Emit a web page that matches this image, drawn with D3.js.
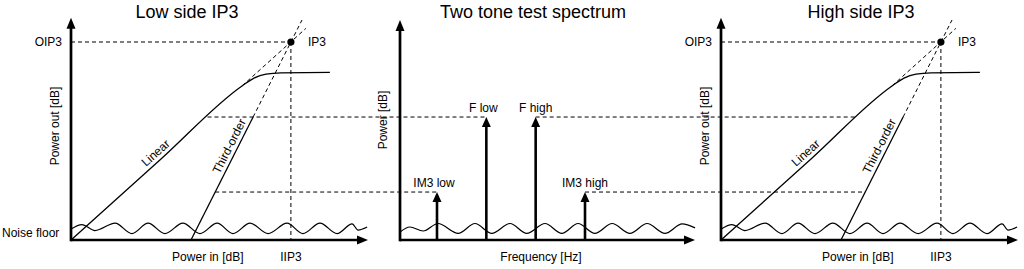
<!DOCTYPE html>
<html lang="en">
<head>
<meta charset="utf-8">
<title>IP3 two tone test</title>
<script src="https://d3js.org/d3.v7.min.js"></script>
<style>
  body { margin: 0; background: #fff; }
  svg text { font-family: "Liberation Sans", Arial, sans-serif; fill: #000; }
</style>
</head>
<body>
<svg id="chart" width="1024" height="269"></svg>
<script>
// ---- data (abstract dB units) ----
var titles = ["Low side IP3", "Two tone test spectrum", "High side IP3"];

// amplifier transfer curve (power in, power out)
var linearCurve = [[0, 0], [30, 36.8], [57, 70], [61, 73.6], [65, 75.4], [70, 76], [86.3, 76.2]];
var linearExt = [[57, 70], [78.3, 96.2]];
var thirdOrder = [[40, 0], [60.7, 55.9]];
var thirdExt = [[60.7, 55.9], [77, 100]];
var ip3 = [73.3, 90];

// noise floor wiggle
var noiseIn = [0.2, 3.6, 8, 14.7, 20.3, 25.7, 31.3, 37.3, 43, 48.7, 54, 59.7, 65.7, 72, 77.3, 83, 88.7, 93.7, 95.7, 98.7];
var noiseOut = [5.1, 7.0, 4.3, 7.7, 2.9, 7.7, 2.9, 7.7, 2.9, 7.7, 2.9, 7.7, 2.9, 7.7, 2.9, 7.7, 2.9, 7.3, 4.5, 5.9];

// spectrum
var toneNames = ["IM3 low", "F low", "F high", "IM3 high"];
var toneFreqs = [1, 2, 3, 4];
var toneLevels = [21.8, 55.9, 55.9, 21.8];
var specNoiseF = [0.25, 0.45, 0.72, 1.02, 1.43, 1.77, 2.11, 2.48, 2.82, 3.19, 3.53, 3.86, 4.2, 4.55, 4.91, 5.26, 5.62, 5.97, 6.23];
var specNoiseP = [3.6, 5.9, 4.1, 7.5, 3.0, 7.5, 3.0, 7.5, 3.0, 7.5, 3.0, 7.5, 3.0, 7.5, 3.0, 7.5, 3.0, 7.3, 5.5];

var svg = d3.select("#chart");

var y = d3.scaleLinear().domain([0, 100]).range([240, 20]);
var xLow = d3.scaleLinear().domain([0, 100]).range([71, 371]);
var xHigh = d3.scaleLinear().domain([0, 100]).range([721, 1021]);
var xFreq = d3.scaleLinear().domain([0.25, 6.25]).range([400, 696]);

var dash = "4,3";
var fs = 12, fsTitle = 18;

function arrowHead(g, tx, ty, dir, len, wid) {
  // dir: "up" or "right"
  var p;
  if (dir == "up") p = [[tx, ty], [tx - wid / 2, ty + len], [tx + wid / 2, ty + len]];
  else p = [[tx, ty], [tx - len, ty - wid / 2], [tx - len, ty + wid / 2]];
  g.append("path").attr("d", "M" + p.join("L") + "Z").attr("fill", "#000");
}

function drawAxes(g, x, xTip, yTip) {
  g.append("line")
    .attr("x1", x.range()[0]).attr("y1", y(0))
    .attr("x2", x(xTip) - 8).attr("y2", y(0))
    .attr("stroke", "#000").attr("stroke-width", 2.7);
  g.append("line")
    .attr("x1", x.range()[0]).attr("y1", y(0) + 1.3)
    .attr("x2", x.range()[0]).attr("y2", y(yTip) + 8)
    .attr("stroke", "#000").attr("stroke-width", 2.7);
  arrowHead(g, x(xTip), y(0), "right", 11, 9);
  arrowHead(g, x.range()[0], y(yTip), "up", 11, 9);
}

function drawNoise(g, x, xs, ys) {
  var pts = xs.map(function(d, i) { return [d, ys[i]]; });
  g.append("path")
    .attr("d", d3.line().x(function(d) { return x(d[0]); }).y(function(d) { return y(d[1]); })
      .curve(d3.curveMonotoneX)(pts))
    .attr("fill", "none").attr("stroke", "#000").attr("stroke-width", 1.2);
}

function line2(g, x, pts, dashed) {
  g.append("path")
    .attr("d", d3.line().x(function(d) { return x(d[0]); }).y(function(d) { return y(d[1]); })(pts))
    .attr("fill", "none").attr("stroke", "#000").attr("stroke-width", dashed ? 1 : 1.3)
    .attr("stroke-dasharray", dashed ? dash : null);
}

function drawIP3Panel(x, title, titleX) {
  var g = svg.append("g");
  svg.append("text").attr("x", titleX).attr("y", 18).attr("text-anchor", "middle")
    .attr("font-size", fsTitle).text(title);

  drawNoise(g, x, noiseIn, noiseOut);

  // transfer curves
  g.append("path")
    .attr("d", d3.line().x(function(d) { return x(d[0]); }).y(function(d) { return y(d[1]); })
      .curve(d3.curveMonotoneX)(linearCurve))
    .attr("fill", "none").attr("stroke", "#000").attr("stroke-width", 1.3);
  line2(g, x, linearExt, true);
  line2(g, x, thirdOrder, false);
  line2(g, x, thirdExt, true);

  // IP3 guides
  line2(g, x, [[0, ip3[1]], ip3], true);
  line2(g, x, [ip3, [ip3[0], 0]], true);
  g.append("circle").attr("cx", x(ip3[0])).attr("cy", y(ip3[1])).attr("r", 3.6).attr("fill", "#000");

  drawAxes(g, x, 99, 101);

  var x0 = x.range()[0];
  g.append("text").attr("x", x0 - 9).attr("y", y(ip3[1]) + 4).attr("text-anchor", "end")
    .attr("font-size", fs).text("OIP3");
  g.append("text").attr("x", x(ip3[0]) + 17).attr("y", y(ip3[1]) + 4)
    .attr("font-size", fs).text("IP3");
  g.append("text").attr("x", x(ip3[0])).attr("y", 261).attr("text-anchor", "middle")
    .attr("font-size", fs).text("IIP3");
  g.append("text").attr("x", x(45.6)).attr("y", 261).attr("text-anchor", "middle")
    .attr("font-size", fs).text("Power in [dB]");
  g.append("text").attr("transform", "translate(" + (x0 - 12) + "," + 126 + ") rotate(-90)")
    .attr("text-anchor", "middle").attr("font-size", fs).text("Power out [dB]");

  // labels along the lines
  var linSlope = linearExt[1][1] / linearExt[1][0];
  var aLin = Math.atan2(y(0) - y(30 * linSlope), x(30) - x(0)) * 180 / Math.PI;
  g.append("text").attr("transform", "translate(" + x(30) + "," + y(30 * linSlope) + ") rotate(" + (-aLin) + ")")
    .attr("dy", -4).attr("text-anchor", "middle").attr("font-size", fs).text("Linear");
  var tSlope = (ip3[1] - thirdOrder[0][1]) / (ip3[0] - thirdOrder[0][0]);
  var tx = thirdOrder[0][0] + 41 / tSlope;
  var aT = Math.atan2(y(0) - y(41), x(tx) - x(thirdOrder[0][0])) * 180 / Math.PI;
  g.append("text").attr("transform", "translate(" + x(tx) + "," + y(41) + ") rotate(" + (-aT) + ")")
    .attr("dy", -4).attr("text-anchor", "middle").attr("font-size", fs).text("Third-order");
  return { linX: toneLevels[1] / linSlope, thirdX: thirdOrder[0][0] + toneLevels[0] / tSlope };
}

var lowRef = drawIP3Panel(xLow, titles[0], 187);
svg.append("text").attr("x", 2).attr("y", 237).attr("font-size", fs).text("Noise floor");
var highRef = drawIP3Panel(xHigh, titles[2], 861);

// spectrum panel
var gs = svg.append("g");
svg.append("text").attr("x", 533).attr("y", 18).attr("text-anchor", "middle")
  .attr("font-size", fsTitle).text(titles[1]);
drawNoise(gs, xFreq, specNoiseF, specNoiseP);

// dashed links between panels
function hDash(x1, x2, lvl) {
  svg.append("line").attr("x1", x1).attr("x2", x2).attr("y1", y(lvl)).attr("y2", y(lvl))
    .attr("stroke", "#000").attr("stroke-width", 1).attr("stroke-dasharray", dash);
}
hDash(xLow(lowRef.linX), xFreq(toneFreqs[1]), toneLevels[1]);
hDash(xFreq(toneFreqs[2]), xHigh(highRef.linX), toneLevels[2]);
hDash(xLow(lowRef.thirdX), xFreq(toneFreqs[0]), toneLevels[0]);
hDash(xFreq(toneFreqs[3]), xHigh(highRef.thirdX), toneLevels[3]);

toneFreqs.forEach(function(f, i) {
  gs.append("line").attr("x1", xFreq(f)).attr("x2", xFreq(f))
    .attr("y1", y(0)).attr("y2", y(toneLevels[i]) + 8)
    .attr("stroke", "#000").attr("stroke-width", 2.6);
  arrowHead(gs, xFreq(f), y(toneLevels[i]), "up", 10, 9);
  gs.append("text").attr("x", xFreq(f) - (i < 2 ? 3 : 0)).attr("y", y(toneLevels[i]) - 5.5)
    .attr("text-anchor", "middle").attr("font-size", fs).text(toneNames[i]);
});

drawAxes(gs, xFreq, 6.23, 100);
gs.append("text").attr("x", 541).attr("y", 261).attr("text-anchor", "middle")
  .attr("font-size", fs).text("Frequency [Hz]");
gs.append("text").attr("transform", "translate(" + 387 + "," + 120 + ") rotate(-90)")
  .attr("text-anchor", "middle").attr("font-size", fs).text("Power [dB]");
</script>
</body>
</html>
